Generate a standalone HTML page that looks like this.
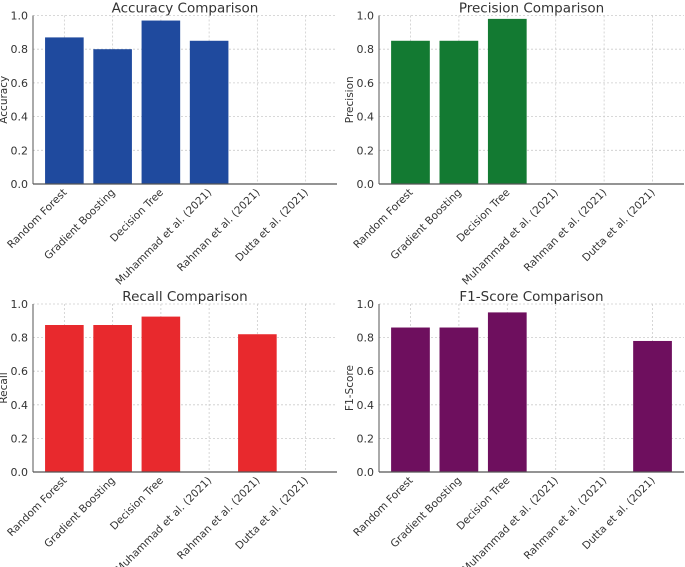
<!DOCTYPE html>
<html><head><meta charset="utf-8"><style>
body{margin:0;background:#fff}
svg{display:block;font-family:"DejaVu Sans","Liberation Sans",sans-serif}
</style></head><body>
<svg id="c" width="685" height="567"></svg>
<script>
const categories=["Random Forest","Gradient Boosting","Decision Tree","Muhammad et al. (2021)","Rahman et al. (2021)","Dutta et al. (2021)"];
const accuracyValues=[0.87,0.80,0.97,0.85,0,0];
const precisionValues=[0.85,0.85,0.98,0,0,0];
const recallValues=[0.875,0.875,0.925,0,0.82,0];
const f1Values=[0.86,0.86,0.95,0,0,0.78];
const yTicks=[0,0.2,0.4,0.6,0.8,1.0];
const yTickLabels=["0.0","0.2","0.4","0.6","0.8","1.0"];
const NS="http://www.w3.org/2000/svg";
const svg=document.getElementById('c');
function mk(tag,attrs,parent){const e=document.createElementNS(NS,tag);for(const k in attrs)e.setAttribute(k,attrs[k]);(parent||svg).appendChild(e);return e;}
const panels=[
 {title:"Accuracy Comparison",ylab:"Accuracy",vals:accuracyValues,color:"#1f4a9e",x0:33,x1:337,y0:184,y1:15.5,name:"accuracy"},
 {title:"Precision Comparison",ylab:"Precision",vals:precisionValues,color:"#137a32",x0:379,x1:684,y0:184,y1:15.5,name:"precision"},
 {title:"Recall Comparison",ylab:"Recall",vals:recallValues,color:"#e8292d",x0:33,x1:337,y0:472,y1:304,name:"recall"},
 {title:"F1-Score Comparison",ylab:"F1-Score",vals:f1Values,color:"#6e0f5e",x0:379,x1:684,y0:472,y1:304,name:"f1-score"}
];
panels.forEach(p=>{
 const g=mk('g',{});
 
 
 const n=categories.length;
 const step=(p.x1-p.x0)/(n-1+1.3);
 const xs=i=>p.x0+step*(0.65+i);
 const ys=v=>p.y0+(p.y1-p.y0)*v;
 // grid
 yTicks.forEach((t,i)=>{
  const l=mk('line',{x1:p.x0,x2:p.x1,y1:ys(t),y2:ys(t),stroke:"#ccc","stroke-dasharray":"2,2","stroke-width":0.8},g);
  
  
  const tx=mk('text',{x:p.x0-5,y:ys(t)+4,"text-anchor":"end","font-size":11,fill:"#333"},g);
  tx.textContent=yTickLabels[i];
  
  
 });
 categories.forEach((c,i)=>{
  const l=mk('line',{x1:xs(i),x2:xs(i),y1:p.y1,y2:p.y0,stroke:"#ccc","stroke-dasharray":"2,2","stroke-width":0.8},g);
  
  
 });
 // bars
 p.vals.forEach((v,i)=>{
  const bw=step*0.8;
  const r=mk('rect',{x:xs(i)-bw/2,y:ys(v),width:bw,height:p.y0-ys(v),fill:p.color},g);
  
  
 });
 // axes
 const la=mk('line',{x1:p.x0,x2:p.x0,y1:p.y1,y2:p.y0,stroke:"#555","stroke-width":1},g);
 
 
 const ba=mk('line',{x1:p.x0,x2:p.x1,y1:p.y0,y2:p.y0,stroke:"#555","stroke-width":1.2},g);
 
 
 categories.forEach((c,i)=>{
  const x=xs(i)+3,y=p.y0+9;
  const t=mk('text',{x:x,y:y,"text-anchor":"end","font-size":10.5,fill:"#333",transform:`rotate(-45 ${x} ${y})`},g);
  t.textContent=c;
  
  
 });
 const tt=mk('text',{x:(p.x0+p.x1)/2,y:p.y1-3,"text-anchor":"middle","font-size":13.5,fill:"#333"},g);
 tt.textContent=p.title;
 
 
 const yl=(p.y0+p.y1)/2, xl=p.x0-26;
 const yt=mk('text',{x:xl,y:yl,"text-anchor":"middle","font-size":10.5,fill:"#333",transform:`rotate(-90 ${xl} ${yl})`},g);
 yt.textContent=p.ylab;
 
 
});
</script>
</body></html>
